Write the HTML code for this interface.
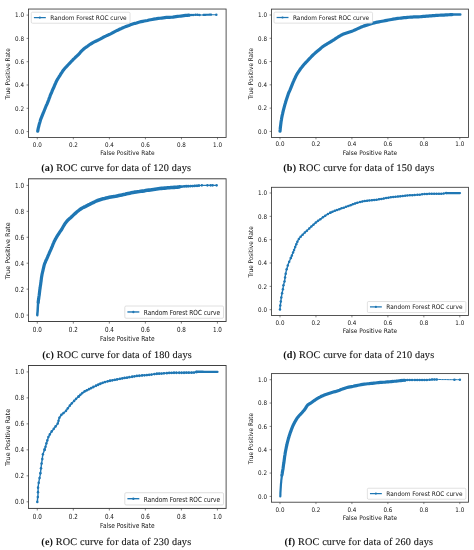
<!DOCTYPE html>
<html lang="en"><head><meta charset="utf-8"><title>Random Forest ROC curves</title>
<style>html,body{margin:0;padding:0;background:#fff}body{width:474px;height:550px;overflow:hidden}</style>
</head><body>
<svg width="474" height="550" viewBox="0 0 474 550" style="display:block">
<g font-family="'DejaVu Sans','Liberation Sans',sans-serif" font-size="6.3" fill="#111" text-rendering="geometricPrecision">
<g id="plot-a" transform="translate(28.29 9.27) scale(1.0006 0.9981)">
<g fill="none" stroke="#1f77b4" stroke-linecap="round" stroke-linejoin="round"><polyline points="9.4,122.2 9.7,120.6 10.0,119.0 10.4,117.5 10.8,115.9 11.2,114.4 11.7,112.8 12.1,111.3 12.6,109.8 13.2,108.3 13.8,106.8 14.4,105.3 15.0,103.9 15.6,102.4 16.2,100.9 16.8,99.4 17.4,97.9 18.0,96.4 18.7,95.0 19.3,93.5 19.9,92.0 20.5,90.5 21.0,89.0 21.6,87.5 22.1,86.0 22.7,84.6 23.4,83.1 24.0,81.6 24.6,80.1 25.3,78.7 25.9,77.2 26.5,75.7 27.2,74.3 27.8,72.8 28.5,71.4 29.3,70.0 30.2,68.6 31.0,67.3 31.9,65.9 32.7,64.5 33.6,63.2 34.4,61.8 35.4,60.5 36.4,59.3 37.5,58.1 38.6,57.0 39.7,55.8 40.8,54.6 41.9,53.5 43.0,52.3 44.1,51.2 45.2,50.0 46.4,48.9 47.5,47.8 48.7,46.7 49.9,45.6 51.0,44.5 52.0,43.2 53.1,42.0 54.2,40.9 55.4,39.8 56.6,38.8 57.9,37.9 59.2,37.0 60.5,36.0 61.8,35.1 63.2,34.3 64.6,33.5 66.0,32.7 67.4,32.0 68.9,31.3 70.3,30.6 71.7,29.9 73.1,29.1 74.5,28.3 75.9,27.6 77.4,26.9 78.8,26.2 80.3,25.6 81.8,24.9 83.2,24.2 84.6,23.4 86.0,22.6 87.4,21.9 88.8,21.2 90.3,20.5 91.7,19.8 93.2,19.2 94.6,18.5 96.1,17.9 97.6,17.3 99.1,16.7 100.6,16.2 102.1,15.6 103.6,15.1 105.1,14.6 106.7,14.1 108.2,13.7 109.7,13.2 111.3,12.8 112.8,12.4 114.4,12.1 116.0,11.8 117.5,11.5 119.1,11.2 120.7,10.8 122.2,10.5 123.8,10.2 125.4,9.9 127.0,9.7 128.5,9.4 130.1,9.2 131.7,9.0 133.3,8.8 134.9,8.6 136.5,8.4 138.1,8.2 139.7,8.1 141.3,8.1 142.9,8.0 144.5,7.9 146.0,7.6 147.6,7.4 149.2,7.2 150.8,7.0 152.4,6.8 154.0,6.6 155.6,6.4 157.2,6.2 158.8,6.1 160.3,5.9 160.7,5.9" stroke-width="3.2"/><polyline points="160.7,5.9 162.3,5.8 163.9,5.7 165.5,5.7 167.1,5.6 168.7,5.6 170.3,5.7 171.1,5.7" stroke-width="1.4"/><polyline points="171.1,5.7 172.7,5.7 174.3,5.7 175.1,5.7" stroke-width="1.0"/><polyline points="175.1,5.7 176.7,5.7 178.3,5.5 179.9,5.5 181.5,5.4 182.7,5.4" stroke-width="2.2"/><polyline points="182.7,5.4 184.3,5.4 185.9,5.4 187.5,5.4 187.9,5.4" stroke-width="1.0"/></g>
<g fill="#1f77b4"><circle cx="160.7" cy="5.9" r="1.25"/><circle cx="162.7" cy="5.8" r="1.25"/><circle cx="164.7" cy="5.7" r="1.25"/><circle cx="167.1" cy="5.6" r="1.25"/><circle cx="169.1" cy="5.6" r="1.25"/><circle cx="171.1" cy="5.7" r="1.25"/><circle cx="187.9" cy="5.4" r="1.25"/></g>
<rect x="0.21" y="-0.23" width="197.48" height="128.65" fill="none" stroke="#383838" stroke-width="0.85"/>
<path d="M9.00 128.43v1.9M0.21 122.56h-1.9M45.02 128.43v1.9M0.21 99.22h-1.9M81.04 128.43v1.9M0.21 75.87h-1.9M117.06 128.43v1.9M0.21 52.53h-1.9M153.08 128.43v1.9M0.21 29.18h-1.9M189.10 128.43v1.9M0.21 5.84h-1.9" stroke="#383838" stroke-width="0.6" fill="none"/>
<text x="9.00" y="137.70" text-anchor="middle" textLength="8.9" lengthAdjust="spacingAndGlyphs">0.0</text>
<text x="-4.29" y="124.86" text-anchor="end" textLength="8.9" lengthAdjust="spacingAndGlyphs">0.0</text>
<text x="45.02" y="137.70" text-anchor="middle" textLength="8.9" lengthAdjust="spacingAndGlyphs">0.2</text>
<text x="-4.29" y="101.52" text-anchor="end" textLength="8.9" lengthAdjust="spacingAndGlyphs">0.2</text>
<text x="81.04" y="137.70" text-anchor="middle" textLength="8.9" lengthAdjust="spacingAndGlyphs">0.4</text>
<text x="-4.29" y="78.17" text-anchor="end" textLength="8.9" lengthAdjust="spacingAndGlyphs">0.4</text>
<text x="117.06" y="137.70" text-anchor="middle" textLength="8.9" lengthAdjust="spacingAndGlyphs">0.6</text>
<text x="-4.29" y="54.83" text-anchor="end" textLength="8.9" lengthAdjust="spacingAndGlyphs">0.6</text>
<text x="153.08" y="137.70" text-anchor="middle" textLength="8.9" lengthAdjust="spacingAndGlyphs">0.8</text>
<text x="-4.29" y="31.48" text-anchor="end" textLength="8.9" lengthAdjust="spacingAndGlyphs">0.8</text>
<text x="189.10" y="137.70" text-anchor="middle" textLength="8.9" lengthAdjust="spacingAndGlyphs">1.0</text>
<text x="-4.29" y="8.14" text-anchor="end" textLength="8.9" lengthAdjust="spacingAndGlyphs">1.0</text>
<text x="99.05" y="145.90" text-anchor="middle" textLength="54.5" lengthAdjust="spacingAndGlyphs">False Positive Rate</text>
<text transform="translate(-18.0 64.70) rotate(-90)" text-anchor="middle" textLength="51.4" lengthAdjust="spacingAndGlyphs">True Positive Rate</text>
<rect x="3.00" y="3.00" width="98.7" height="11.0" rx="1.2" fill="#fff" fill-opacity="0.8" stroke="#cccccc" stroke-width="0.6"/>
<path d="M5.60 8.35h11.9" stroke="#1f77b4" stroke-width="1.25"/><circle cx="11.55" cy="8.35" r="1.1" fill="#1f77b4"/>
<text x="22.00" y="10.90" textLength="76.3" lengthAdjust="spacingAndGlyphs">Random Forest ROC curve</text>
</g>
<g id="plot-b" transform="translate(271.01 9.18) scale(0.9984 0.9972)">
<g fill="none" stroke="#1f77b4" stroke-linecap="round" stroke-linejoin="round"><polyline points="9.0,122.4 9.2,120.8 9.3,119.2 9.5,117.6 9.7,116.0 9.9,114.4 10.1,112.8 10.4,111.2 10.6,109.7 10.9,108.1 11.2,106.5 11.6,105.0 11.9,103.4 12.3,101.8 12.7,100.3 13.1,98.7 13.5,97.2 13.9,95.7 14.4,94.1 14.8,92.6 15.3,91.1 15.8,89.5 16.3,88.0 16.8,86.5 17.3,85.0 17.9,83.5 18.6,82.0 19.2,80.6 19.8,79.1 20.4,77.6 21.0,76.1 21.6,74.6 22.2,73.2 22.9,71.7 23.5,70.2 24.2,68.8 24.9,67.3 25.6,65.9 26.4,64.5 27.3,63.2 28.2,61.8 29.1,60.5 30.0,59.2 31.0,58.0 32.0,56.7 33.0,55.5 34.1,54.3 35.2,53.1 36.3,52.0 37.4,50.8 38.5,49.6 39.6,48.5 40.7,47.3 41.8,46.2 43.0,45.1 44.2,44.0 45.4,43.0 46.6,42.0 47.9,40.9 49.1,39.9 50.3,38.8 51.5,37.8 52.8,36.9 54.1,36.0 55.5,35.2 56.9,34.4 58.3,33.5 59.6,32.7 61.0,31.9 62.4,31.0 63.7,30.2 65.0,29.3 66.4,28.4 67.7,27.6 69.1,26.8 70.5,25.9 71.9,25.2 73.4,24.6 74.9,24.1 76.4,23.6 77.9,23.1 79.5,22.6 81.0,22.1 82.5,21.5 83.9,20.9 85.4,20.2 86.9,19.5 88.3,18.9 89.8,18.2 91.2,17.6 92.7,17.0 94.3,16.5 95.8,16.0 97.3,15.5 98.8,15.1 100.4,14.6 101.9,14.1 103.4,13.7 105.0,13.3 106.6,13.0 108.1,12.7 109.7,12.4 111.3,12.1 112.8,11.8 114.4,11.5 116.0,11.2 117.6,10.9 119.1,10.6 120.7,10.3 122.3,10.0 123.9,9.8 125.4,9.5 127.0,9.3 128.6,9.1 130.2,8.9 131.8,8.7 133.4,8.5 135.0,8.4 136.6,8.2 138.2,8.1 139.8,8.0 141.4,7.9 143.0,7.8 144.6,7.8 146.2,7.8 147.7,7.7 149.3,7.6 150.9,7.4 152.5,7.3 154.1,7.2 155.7,7.0 157.3,6.9 158.9,6.8 160.5,6.7 162.1,6.5 163.7,6.4 165.3,6.3 166.9,6.2 168.5,6.1 170.1,6.0 171.7,6.0 173.3,5.9 174.9,5.8 176.5,5.7 178.1,5.6 179.7,5.5 181.3,5.4" stroke-width="3.2"/><polyline points="181.3,5.4 182.9,5.4 184.5,5.3 186.1,5.3 187.7,5.4 189.3,5.4 189.6,5.4" stroke-width="2.5"/></g>
<rect x="0.49" y="-0.08" width="197.32" height="128.71" fill="none" stroke="#383838" stroke-width="0.85"/>
<path d="M9.00 128.63v1.9M0.49 122.56h-1.9M45.02 128.63v1.9M0.49 99.22h-1.9M81.04 128.63v1.9M0.49 75.87h-1.9M117.06 128.63v1.9M0.49 52.53h-1.9M153.08 128.63v1.9M0.49 29.18h-1.9M189.10 128.63v1.9M0.49 5.84h-1.9" stroke="#383838" stroke-width="0.6" fill="none"/>
<text x="9.00" y="137.70" text-anchor="middle" textLength="8.9" lengthAdjust="spacingAndGlyphs">0.0</text>
<text x="-4.01" y="124.86" text-anchor="end" textLength="8.9" lengthAdjust="spacingAndGlyphs">0.0</text>
<text x="45.02" y="137.70" text-anchor="middle" textLength="8.9" lengthAdjust="spacingAndGlyphs">0.2</text>
<text x="-4.01" y="101.52" text-anchor="end" textLength="8.9" lengthAdjust="spacingAndGlyphs">0.2</text>
<text x="81.04" y="137.70" text-anchor="middle" textLength="8.9" lengthAdjust="spacingAndGlyphs">0.4</text>
<text x="-4.01" y="78.17" text-anchor="end" textLength="8.9" lengthAdjust="spacingAndGlyphs">0.4</text>
<text x="117.06" y="137.70" text-anchor="middle" textLength="8.9" lengthAdjust="spacingAndGlyphs">0.6</text>
<text x="-4.01" y="54.83" text-anchor="end" textLength="8.9" lengthAdjust="spacingAndGlyphs">0.6</text>
<text x="153.08" y="137.70" text-anchor="middle" textLength="8.9" lengthAdjust="spacingAndGlyphs">0.8</text>
<text x="-4.01" y="31.48" text-anchor="end" textLength="8.9" lengthAdjust="spacingAndGlyphs">0.8</text>
<text x="189.10" y="137.70" text-anchor="middle" textLength="8.9" lengthAdjust="spacingAndGlyphs">1.0</text>
<text x="-4.01" y="8.14" text-anchor="end" textLength="8.9" lengthAdjust="spacingAndGlyphs">1.0</text>
<text x="99.05" y="145.90" text-anchor="middle" textLength="54.5" lengthAdjust="spacingAndGlyphs">False Positive Rate</text>
<text transform="translate(-18.0 64.70) rotate(-90)" text-anchor="middle" textLength="51.4" lengthAdjust="spacingAndGlyphs">True Positive Rate</text>
<rect x="3.00" y="3.00" width="98.7" height="11.0" rx="1.2" fill="#fff" fill-opacity="0.8" stroke="#cccccc" stroke-width="0.6"/>
<path d="M5.60 8.35h11.9" stroke="#1f77b4" stroke-width="1.25"/><circle cx="11.55" cy="8.35" r="1.1" fill="#1f77b4"/>
<text x="22.00" y="10.90" textLength="76.3" lengthAdjust="spacingAndGlyphs">Random Forest ROC curve</text>
</g>
<g id="plot-c" transform="translate(28.29 178.91) scale(1.0001 1.1111)">
<g fill="none" stroke="#1f77b4" stroke-linecap="round" stroke-linejoin="round"><polyline points="9.0,122.6 9.1,121.0 9.3,119.4 9.4,117.8 9.5,116.2 9.6,114.6 9.7,113.0 9.9,111.4 9.9,111.0" stroke-width="2.5"/><polyline points="9.9,111.0 10.1,109.4 10.4,107.8 10.6,106.3 10.9,104.7 11.1,103.1 11.3,101.5 11.5,99.9 11.8,98.3 12.0,96.8 12.3,95.2 12.5,93.6 12.8,92.0 13.0,90.4 13.2,88.8 13.5,87.3 13.8,85.7 14.2,84.1 14.6,82.6 15.0,81.0 15.4,79.5 15.8,78.0 16.3,76.4 17.0,75.0 17.6,73.5 18.4,72.1 19.1,70.7 19.8,69.2 20.5,67.8 21.2,66.3 21.9,64.9 22.6,63.5 23.3,62.0 24.0,60.6 24.6,59.1 25.3,57.7 26.0,56.2 26.8,54.8 27.6,53.5 28.5,52.1 29.4,50.8 30.3,49.5 31.2,48.2 32.2,46.9 33.2,45.7 34.1,44.3 34.9,43.0 35.8,41.6 36.7,40.3 37.7,39.1 38.8,37.9 39.9,36.8 41.2,35.8 42.5,34.8 43.7,33.8 44.9,32.7 46.1,31.7 47.4,30.7 48.6,29.7 49.9,28.8 51.2,27.8 52.6,27.0 54.0,26.2 55.4,25.5 56.9,24.9 58.3,24.2 59.8,23.5 61.3,22.9 62.7,22.2 64.2,21.6 65.7,21.0 67.1,20.3 68.6,19.7 70.1,19.2 71.7,18.7 73.2,18.3 74.8,17.9 76.3,17.6 77.9,17.2 79.4,16.9 81.0,16.6 82.6,16.3 84.2,16.0 85.8,15.8 87.3,15.6 88.9,15.3 90.5,15.0 92.1,14.7 93.6,14.4 95.2,14.1 96.8,13.8 98.3,13.4 99.9,13.1 101.5,12.8 103.0,12.5 104.6,12.2 106.2,11.9 107.8,11.7 109.4,11.5 111.0,11.4 112.5,11.2 114.1,11.0 115.7,10.8 117.3,10.5 118.9,10.3 120.5,10.1 122.0,9.9 123.6,9.7 125.2,9.5 126.8,9.3 128.4,9.1 130.0,8.9 131.6,8.7 133.2,8.5 134.8,8.4 136.4,8.3 137.9,8.2 139.5,8.0 141.1,7.9 142.7,7.8 144.3,7.7 145.9,7.6 147.5,7.5 149.1,7.4 150.7,7.2 151.5,7.1" stroke-width="3.2"/><polyline points="151.5,7.1 153.1,7.0 154.7,6.8 156.3,6.7 157.9,6.6 159.5,6.6 161.1,6.5 162.7,6.4 164.3,6.4 165.9,6.3 167.5,6.2 169.1,6.1 170.7,6.0" stroke-width="1.8"/><polyline points="170.7,6.0 172.3,5.9 173.9,5.8 175.5,5.8 177.1,5.8 178.7,5.8 180.3,5.8 181.9,5.8 183.5,5.8 185.1,5.8 186.7,5.8 188.3,5.8 188.3,5.8" stroke-width="1.0"/></g>
<g fill="#1f77b4"><circle cx="151.5" cy="7.1" r="1.25"/><circle cx="153.5" cy="6.9" r="1.25"/><circle cx="155.9" cy="6.7" r="1.25"/><circle cx="157.9" cy="6.6" r="1.25"/><circle cx="159.9" cy="6.5" r="1.25"/><circle cx="162.3" cy="6.4" r="1.25"/><circle cx="164.3" cy="6.4" r="1.25"/><circle cx="166.3" cy="6.3" r="1.25"/><circle cx="168.7" cy="6.2" r="1.25"/><circle cx="170.7" cy="6.0" r="1.25"/><circle cx="173.5" cy="5.8" r="1.25"/><circle cx="179.1" cy="5.8" r="1.25"/><circle cx="182.3" cy="5.8" r="1.25"/><circle cx="184.3" cy="5.8" r="1.25"/><circle cx="188.3" cy="5.8" r="1.25"/></g>
<rect x="0.20" y="-0.10" width="197.59" height="128.43" fill="none" stroke="#383838" stroke-width="0.85"/>
<path d="M9.00 128.32v1.9M0.20 122.56h-1.9M45.02 128.32v1.9M0.20 99.22h-1.9M81.04 128.32v1.9M0.20 75.87h-1.9M117.06 128.32v1.9M0.20 52.53h-1.9M153.08 128.32v1.9M0.20 29.18h-1.9M189.10 128.32v1.9M0.20 5.84h-1.9" stroke="#383838" stroke-width="0.6" fill="none"/>
<text x="9.00" y="137.70" text-anchor="middle" textLength="8.9" lengthAdjust="spacingAndGlyphs">0.0</text>
<text x="-4.30" y="124.86" text-anchor="end" textLength="8.9" lengthAdjust="spacingAndGlyphs">0.0</text>
<text x="45.02" y="137.70" text-anchor="middle" textLength="8.9" lengthAdjust="spacingAndGlyphs">0.2</text>
<text x="-4.30" y="101.52" text-anchor="end" textLength="8.9" lengthAdjust="spacingAndGlyphs">0.2</text>
<text x="81.04" y="137.70" text-anchor="middle" textLength="8.9" lengthAdjust="spacingAndGlyphs">0.4</text>
<text x="-4.30" y="78.17" text-anchor="end" textLength="8.9" lengthAdjust="spacingAndGlyphs">0.4</text>
<text x="117.06" y="137.70" text-anchor="middle" textLength="8.9" lengthAdjust="spacingAndGlyphs">0.6</text>
<text x="-4.30" y="54.83" text-anchor="end" textLength="8.9" lengthAdjust="spacingAndGlyphs">0.6</text>
<text x="153.08" y="137.70" text-anchor="middle" textLength="8.9" lengthAdjust="spacingAndGlyphs">0.8</text>
<text x="-4.30" y="31.48" text-anchor="end" textLength="8.9" lengthAdjust="spacingAndGlyphs">0.8</text>
<text x="189.10" y="137.70" text-anchor="middle" textLength="8.9" lengthAdjust="spacingAndGlyphs">1.0</text>
<text x="-4.30" y="8.14" text-anchor="end" textLength="8.9" lengthAdjust="spacingAndGlyphs">1.0</text>
<text x="99.05" y="145.90" text-anchor="middle" textLength="54.5" lengthAdjust="spacingAndGlyphs">False Positive Rate</text>
<text transform="translate(-18.0 64.70) rotate(-90)" text-anchor="middle" textLength="51.4" lengthAdjust="spacingAndGlyphs">True Positive Rate</text>
<rect x="96.50" y="114.40" width="98.7" height="11.0" rx="1.2" fill="#fff" fill-opacity="0.8" stroke="#cccccc" stroke-width="0.6"/>
<path d="M99.10 119.75h11.9" stroke="#1f77b4" stroke-width="1.25"/><circle cx="105.05" cy="119.75" r="1.1" fill="#1f77b4"/>
<text x="115.50" y="122.30" textLength="76.3" lengthAdjust="spacingAndGlyphs">Random Forest ROC curve</text>
</g>
<g id="plot-d" transform="translate(271.01 187.16) scale(0.9984 0.9998)">
<g fill="none" stroke="#1f77b4" stroke-linecap="round" stroke-linejoin="round"><polyline points="9.0,122.4 9.1,120.8 9.2,119.2 9.4,117.6 9.6,116.0 9.8,114.4 10.0,112.8 10.2,111.2 10.5,109.7 10.7,108.1 11.0,106.5 11.3,104.9 11.6,103.4 11.9,101.8 12.2,100.2 12.4,98.6 12.7,97.1 13.2,95.5 13.6,94.0 13.8,92.4 14.0,90.8 14.2,89.2 14.5,87.6 14.8,86.1 15.1,84.5 15.5,82.9 16.0,81.4 16.4,79.9 16.8,78.3 17.3,76.8 17.8,75.3 18.5,73.9 19.2,72.4 19.9,70.9" stroke-width="1.4"/><polyline points="19.9,70.9 20.5,69.5 21.1,68.0 21.6,66.5 22.2,65.0 22.8,63.5 23.4,62.0 24.0,60.5 24.5,59.0 25.2,57.6 25.8,56.1 26.4,54.6 27.1,53.1 27.9,51.8 28.9,50.5 30.0,49.3 31.1,48.2 32.2,47.0 33.4,45.9 34.5,44.8 35.7,43.7 36.9,42.6 38.0,41.5 39.2,40.4 40.4,39.4 41.6,38.3 42.8,37.2 44.0,36.2 45.2,35.2 46.5,34.2 47.8,33.2 49.1,32.3 50.3,31.3 51.6,30.4 52.9,29.5 54.3,28.6 55.6,27.7 57.0,26.9 58.4,26.1 59.4,25.5" stroke-width="1.4"/><polyline points="59.4,25.5 60.9,24.9 62.4,24.3 63.9,23.7 65.4,23.1 66.9,22.6 68.4,22.0 69.9,21.5 71.4,21.0 72.9,20.5 74.4,20.0 75.9,19.4 77.4,18.9 78.9,18.3 80.4,17.8 81.9,17.2 83.4,16.6 84.9,16.1 86.5,15.6 88.0,15.2 89.6,14.8 91.1,14.4 92.7,14.1 94.3,13.8 95.8,13.6 97.4,13.4 99.0,13.2 100.6,13.1 102.2,12.9 103.8,12.8 105.4,12.6 107.0,12.4 108.6,12.1 110.1,11.9 111.7,11.6 113.3,11.3 114.9,11.0 116.4,10.7 118.0,10.4 119.6,10.2 121.2,10.0 122.8,9.8 124.4,9.6 126.0,9.5 127.5,9.4 129.1,9.3 130.7,9.1 132.3,8.8 133.9,8.5 135.5,8.3 137.1,8.2 138.7,8.2 140.3,8.1 141.9,8.0 143.5,7.9 145.1,7.8 146.7,7.7 148.2,7.5 149.8,7.4 151.4,7.2 153.0,7.0 154.6,6.8 156.2,6.8 157.8,6.7 159.4,6.6 161.0,6.6 162.6,6.6 164.2,6.6 165.8,6.6 167.4,6.6 169.0,6.6 170.6,6.6 172.2,6.5 173.8,6.2 175.4,5.9" stroke-width="1.4"/><polyline points="175.4,5.9 177.0,5.9 178.5,5.9 180.1,5.9 181.7,5.9 183.3,5.9 184.9,5.9 186.5,5.9 188.2,5.9 189.3,5.9" stroke-width="2.2"/></g>
<g fill="#1f77b4"><circle cx="9.0" cy="122.4" r="1.25"/><circle cx="9.3" cy="118.4" r="1.25"/><circle cx="9.8" cy="114.4" r="1.25"/><circle cx="10.3" cy="110.4" r="1.25"/><circle cx="11.1" cy="106.1" r="1.25"/><circle cx="11.9" cy="102.2" r="1.25"/><circle cx="12.5" cy="98.2" r="1.25"/><circle cx="13.5" cy="94.4" r="1.25"/><circle cx="14.1" cy="90.4" r="1.25"/><circle cx="14.7" cy="86.5" r="1.25"/><circle cx="15.7" cy="82.2" r="1.25"/><circle cx="16.8" cy="78.3" r="1.25"/><circle cx="18.2" cy="74.6" r="1.25"/><circle cx="19.9" cy="70.9" r="1.25"/><circle cx="19.9" cy="70.9" r="1.25"/><circle cx="20.9" cy="68.4" r="1.25"/><circle cx="22.1" cy="65.4" r="1.25"/><circle cx="23.1" cy="62.8" r="1.25"/><circle cx="24.2" cy="59.8" r="1.25"/><circle cx="25.3" cy="57.2" r="1.25"/><circle cx="26.4" cy="54.6" r="1.25"/><circle cx="27.9" cy="51.8" r="1.25"/><circle cx="29.7" cy="49.6" r="1.25"/><circle cx="31.7" cy="47.6" r="1.25"/><circle cx="33.9" cy="45.4" r="1.25"/><circle cx="36.0" cy="43.5" r="1.25"/><circle cx="38.3" cy="41.3" r="1.25"/><circle cx="40.4" cy="39.4" r="1.25"/><circle cx="42.5" cy="37.5" r="1.25"/><circle cx="44.9" cy="35.4" r="1.25"/><circle cx="47.1" cy="33.7" r="1.25"/><circle cx="49.4" cy="32.0" r="1.25"/><circle cx="52.0" cy="30.2" r="1.25"/><circle cx="54.3" cy="28.6" r="1.25"/><circle cx="57.0" cy="26.9" r="1.25"/><circle cx="59.4" cy="25.5" r="1.25"/><circle cx="59.4" cy="25.5" r="1.25"/><circle cx="61.6" cy="24.6" r="1.25"/><circle cx="63.9" cy="23.7" r="1.25"/><circle cx="66.1" cy="22.8" r="1.25"/><circle cx="68.4" cy="22.0" r="1.25"/><circle cx="70.6" cy="21.2" r="1.25"/><circle cx="72.9" cy="20.5" r="1.25"/><circle cx="75.2" cy="19.7" r="1.25"/><circle cx="77.4" cy="18.9" r="1.25"/><circle cx="79.7" cy="18.0" r="1.25"/><circle cx="81.9" cy="17.2" r="1.25"/><circle cx="84.2" cy="16.4" r="1.25"/><circle cx="86.5" cy="15.6" r="1.25"/><circle cx="89.2" cy="14.9" r="1.25"/><circle cx="91.5" cy="14.3" r="1.25"/><circle cx="93.9" cy="13.9" r="1.25"/><circle cx="96.2" cy="13.6" r="1.25"/><circle cx="98.6" cy="13.3" r="1.25"/><circle cx="101.0" cy="13.0" r="1.25"/><circle cx="103.4" cy="12.8" r="1.25"/><circle cx="105.8" cy="12.6" r="1.25"/><circle cx="108.2" cy="12.2" r="1.25"/><circle cx="110.5" cy="11.8" r="1.25"/><circle cx="112.9" cy="11.4" r="1.25"/><circle cx="115.3" cy="10.9" r="1.25"/><circle cx="117.6" cy="10.5" r="1.25"/><circle cx="120.0" cy="10.1" r="1.25"/><circle cx="122.4" cy="9.8" r="1.25"/><circle cx="124.8" cy="9.6" r="1.25"/><circle cx="127.1" cy="9.4" r="1.25"/><circle cx="129.5" cy="9.2" r="1.25"/><circle cx="131.9" cy="8.9" r="1.25"/><circle cx="134.3" cy="8.5" r="1.25"/><circle cx="136.7" cy="8.3" r="1.25"/><circle cx="139.1" cy="8.2" r="1.25"/><circle cx="141.5" cy="8.1" r="1.25"/><circle cx="143.9" cy="7.9" r="1.25"/><circle cx="146.7" cy="7.7" r="1.25"/><circle cx="149.0" cy="7.5" r="1.25"/><circle cx="151.4" cy="7.2" r="1.25"/><circle cx="153.8" cy="6.9" r="1.25"/><circle cx="156.2" cy="6.8" r="1.25"/><circle cx="158.6" cy="6.7" r="1.25"/><circle cx="161.0" cy="6.6" r="1.25"/><circle cx="163.4" cy="6.6" r="1.25"/><circle cx="165.8" cy="6.6" r="1.25"/><circle cx="168.2" cy="6.6" r="1.25"/><circle cx="170.6" cy="6.6" r="1.25"/><circle cx="173.0" cy="6.3" r="1.25"/><circle cx="175.4" cy="5.9" r="1.25"/></g>
<rect x="0.49" y="0.14" width="197.32" height="128.18" fill="none" stroke="#383838" stroke-width="0.85"/>
<path d="M9.00 128.31v1.9M0.49 122.56h-1.9M45.02 128.31v1.9M0.49 99.22h-1.9M81.04 128.31v1.9M0.49 75.87h-1.9M117.06 128.31v1.9M0.49 52.53h-1.9M153.08 128.31v1.9M0.49 29.18h-1.9M189.10 128.31v1.9M0.49 5.84h-1.9" stroke="#383838" stroke-width="0.6" fill="none"/>
<text x="9.00" y="137.70" text-anchor="middle" textLength="8.9" lengthAdjust="spacingAndGlyphs">0.0</text>
<text x="-4.01" y="124.86" text-anchor="end" textLength="8.9" lengthAdjust="spacingAndGlyphs">0.0</text>
<text x="45.02" y="137.70" text-anchor="middle" textLength="8.9" lengthAdjust="spacingAndGlyphs">0.2</text>
<text x="-4.01" y="101.52" text-anchor="end" textLength="8.9" lengthAdjust="spacingAndGlyphs">0.2</text>
<text x="81.04" y="137.70" text-anchor="middle" textLength="8.9" lengthAdjust="spacingAndGlyphs">0.4</text>
<text x="-4.01" y="78.17" text-anchor="end" textLength="8.9" lengthAdjust="spacingAndGlyphs">0.4</text>
<text x="117.06" y="137.70" text-anchor="middle" textLength="8.9" lengthAdjust="spacingAndGlyphs">0.6</text>
<text x="-4.01" y="54.83" text-anchor="end" textLength="8.9" lengthAdjust="spacingAndGlyphs">0.6</text>
<text x="153.08" y="137.70" text-anchor="middle" textLength="8.9" lengthAdjust="spacingAndGlyphs">0.8</text>
<text x="-4.01" y="31.48" text-anchor="end" textLength="8.9" lengthAdjust="spacingAndGlyphs">0.8</text>
<text x="189.10" y="137.70" text-anchor="middle" textLength="8.9" lengthAdjust="spacingAndGlyphs">1.0</text>
<text x="-4.01" y="8.14" text-anchor="end" textLength="8.9" lengthAdjust="spacingAndGlyphs">1.0</text>
<text x="99.05" y="145.90" text-anchor="middle" textLength="54.5" lengthAdjust="spacingAndGlyphs">False Positive Rate</text>
<text transform="translate(-18.0 64.70) rotate(-90)" text-anchor="middle" textLength="51.4" lengthAdjust="spacingAndGlyphs">True Positive Rate</text>
<rect x="96.50" y="114.40" width="98.7" height="11.0" rx="1.2" fill="#fff" fill-opacity="0.8" stroke="#cccccc" stroke-width="0.6"/>
<path d="M99.10 119.75h11.9" stroke="#1f77b4" stroke-width="1.25"/><circle cx="105.05" cy="119.75" r="1.1" fill="#1f77b4"/>
<text x="115.50" y="122.30" textLength="76.3" lengthAdjust="spacingAndGlyphs">Random Forest ROC curve</text>
</g>
<g id="plot-e" transform="translate(28.29 365.40) scale(1.0001 1.1129)">
<g fill="none" stroke="#1f77b4" stroke-linecap="round" stroke-linejoin="round"><polyline points="9.0,122.7 9.2,121.1 9.3,119.5 9.5,117.9 9.7,116.3 9.7,114.7 9.8,113.1 9.8,111.5 9.8,109.9 10.0,108.3 10.2,106.7 10.5,105.1 10.8,103.6 11.1,102.0 11.4,100.4 11.8,98.9 12.1,97.3 12.3,95.7 12.5,94.1 12.7,92.5 12.9,90.9 13.1,89.4 13.3,87.8 13.6,86.2 13.9,84.6 14.1,83.0 14.3,81.4 14.6,79.9 15.2,78.4 15.8,76.9 16.3,75.8" stroke-width="1.4"/><polyline points="16.3,75.8 16.8,74.3 17.3,72.8 17.8,71.2 18.3,69.7 18.8,68.2 19.3,66.7 19.8,65.2 20.5,63.7 21.3,62.4 22.2,61.0 23.2,59.7 24.2,58.5 25.2,57.3 26.3,56.1 27.3,54.8 28.4,53.6 29.4,52.3 30.0,51.0 30.3,49.4 30.8,47.8 31.5,46.4 32.5,45.1 33.6,44.0 34.9,43.0 36.2,42.1 37.5,41.1 38.5,39.9 39.5,38.6 40.5,37.3 41.5,36.2 42.6,35.0 43.8,33.8 44.9,32.7 46.1,31.6 47.2,30.6 48.5,29.5 49.7,28.5 50.3,28.0" stroke-width="1.4"/><polyline points="50.3,28.0 51.5,26.9 52.8,25.9 54.0,24.9 55.3,24.0 56.7,23.2 58.1,22.5 59.6,21.9 61.1,21.2 62.5,20.5 64.0,19.9 65.5,19.3 66.9,18.6 68.4,18.0 69.9,17.4 71.4,16.8 72.9,16.2 74.4,15.7 75.9,15.2 77.4,14.8 79.0,14.4 80.6,14.0 82.1,13.7 83.7,13.5 85.3,13.2 86.9,13.0 88.4,12.7 90.0,12.4 91.6,12.1 93.2,11.8 94.7,11.6 96.3,11.3 97.9,11.1 99.5,10.9 101.1,10.6 102.7,10.4 104.2,10.1 105.8,9.9 107.4,9.7 109.0,9.5 110.6,9.3 112.2,9.2 113.8,9.0 115.4,8.9 117.0,8.8 118.6,8.7 120.2,8.5 121.7,8.4 123.3,8.2 124.9,8.0 126.5,7.7 128.1,7.6 129.7,7.4 131.3,7.4 132.9,7.3 134.5,7.2 136.1,7.1 137.7,7.0 139.3,6.9 140.9,6.8 142.5,6.7 144.1,6.7 145.7,6.6 147.3,6.6 148.9,6.6 150.5,6.6 152.1,6.6 153.7,6.6 155.3,6.6 156.9,6.5 158.5,6.5 160.1,6.5 161.7,6.5 163.3,6.5 164.9,6.4 166.5,6.3 168.0,5.9" stroke-width="1.4"/><polyline points="168.0,5.9 169.6,5.7 171.2,5.7 172.8,5.7 174.3,5.7 175.9,5.8 177.5,5.8 179.1,5.8 180.7,5.8 182.3,5.8 183.9,5.8 185.6,5.8 187.2,5.8 188.8,5.8 189.2,5.8" stroke-width="2.2"/></g>
<g fill="#1f77b4"><circle cx="9.0" cy="122.7" r="1.25"/><circle cx="9.5" cy="118.3" r="1.25"/><circle cx="9.7" cy="113.9" r="1.25"/><circle cx="9.8" cy="109.9" r="1.25"/><circle cx="10.4" cy="105.5" r="1.25"/><circle cx="11.3" cy="101.2" r="1.25"/><circle cx="12.1" cy="96.9" r="1.25"/><circle cx="12.7" cy="92.5" r="1.25"/><circle cx="13.3" cy="88.2" r="1.25"/><circle cx="14.0" cy="84.2" r="1.25"/><circle cx="14.6" cy="79.9" r="1.25"/><circle cx="16.3" cy="75.8" r="1.25"/><circle cx="16.3" cy="75.8" r="1.25"/><circle cx="17.2" cy="73.2" r="1.25"/><circle cx="18.1" cy="70.1" r="1.25"/><circle cx="19.0" cy="67.4" r="1.25"/><circle cx="20.1" cy="64.4" r="1.25"/><circle cx="21.5" cy="62.0" r="1.25"/><circle cx="23.4" cy="59.4" r="1.25"/><circle cx="25.5" cy="57.0" r="1.25"/><circle cx="27.3" cy="54.8" r="1.25"/><circle cx="29.4" cy="52.3" r="1.25"/><circle cx="30.2" cy="49.8" r="1.25"/><circle cx="31.1" cy="47.1" r="1.25"/><circle cx="33.0" cy="44.5" r="1.25"/><circle cx="35.2" cy="42.8" r="1.25"/><circle cx="37.7" cy="40.8" r="1.25"/><circle cx="39.5" cy="38.6" r="1.25"/><circle cx="41.5" cy="36.2" r="1.25"/><circle cx="43.5" cy="34.1" r="1.25"/><circle cx="45.8" cy="31.9" r="1.25"/><circle cx="47.8" cy="30.0" r="1.25"/><circle cx="50.3" cy="28.0" r="1.25"/><circle cx="50.3" cy="28.0" r="1.25"/><circle cx="52.1" cy="26.4" r="1.25"/><circle cx="54.0" cy="24.9" r="1.25"/><circle cx="56.3" cy="23.4" r="1.25"/><circle cx="58.5" cy="22.4" r="1.25"/><circle cx="60.7" cy="21.4" r="1.25"/><circle cx="62.9" cy="20.4" r="1.25"/><circle cx="65.1" cy="19.4" r="1.25"/><circle cx="67.7" cy="18.3" r="1.25"/><circle cx="69.9" cy="17.4" r="1.25"/><circle cx="72.1" cy="16.5" r="1.25"/><circle cx="74.4" cy="15.7" r="1.25"/><circle cx="76.7" cy="15.0" r="1.25"/><circle cx="79.4" cy="14.3" r="1.25"/><circle cx="81.7" cy="13.8" r="1.25"/><circle cx="84.1" cy="13.4" r="1.25"/><circle cx="86.5" cy="13.0" r="1.25"/><circle cx="88.8" cy="12.6" r="1.25"/><circle cx="91.6" cy="12.1" r="1.25"/><circle cx="94.0" cy="11.7" r="1.25"/><circle cx="96.3" cy="11.3" r="1.25"/><circle cx="98.7" cy="11.0" r="1.25"/><circle cx="101.1" cy="10.6" r="1.25"/><circle cx="103.8" cy="10.2" r="1.25"/><circle cx="106.2" cy="9.8" r="1.25"/><circle cx="108.6" cy="9.5" r="1.25"/><circle cx="111.0" cy="9.3" r="1.25"/><circle cx="113.8" cy="9.0" r="1.25"/><circle cx="116.2" cy="8.9" r="1.25"/><circle cx="118.6" cy="8.7" r="1.25"/><circle cx="120.9" cy="8.5" r="1.25"/><circle cx="123.3" cy="8.2" r="1.25"/><circle cx="126.1" cy="7.8" r="1.25"/><circle cx="128.5" cy="7.5" r="1.25"/><circle cx="130.9" cy="7.4" r="1.25"/><circle cx="133.3" cy="7.3" r="1.25"/><circle cx="135.7" cy="7.1" r="1.25"/><circle cx="138.5" cy="7.0" r="1.25"/><circle cx="140.9" cy="6.8" r="1.25"/><circle cx="143.3" cy="6.7" r="1.25"/><circle cx="145.7" cy="6.6" r="1.25"/><circle cx="148.1" cy="6.6" r="1.25"/><circle cx="150.9" cy="6.6" r="1.25"/><circle cx="153.3" cy="6.6" r="1.25"/><circle cx="155.7" cy="6.6" r="1.25"/><circle cx="158.1" cy="6.5" r="1.25"/><circle cx="160.5" cy="6.5" r="1.25"/><circle cx="163.3" cy="6.5" r="1.25"/><circle cx="165.7" cy="6.4" r="1.25"/><circle cx="168.0" cy="5.9" r="1.25"/></g>
<rect x="0.20" y="0.09" width="197.59" height="128.41" fill="none" stroke="#383838" stroke-width="0.85"/>
<path d="M9.00 128.49v1.9M0.20 122.56h-1.9M45.02 128.49v1.9M0.20 99.22h-1.9M81.04 128.49v1.9M0.20 75.87h-1.9M117.06 128.49v1.9M0.20 52.53h-1.9M153.08 128.49v1.9M0.20 29.18h-1.9M189.10 128.49v1.9M0.20 5.84h-1.9" stroke="#383838" stroke-width="0.6" fill="none"/>
<text x="9.00" y="137.70" text-anchor="middle" textLength="8.9" lengthAdjust="spacingAndGlyphs">0.0</text>
<text x="-4.30" y="124.86" text-anchor="end" textLength="8.9" lengthAdjust="spacingAndGlyphs">0.0</text>
<text x="45.02" y="137.70" text-anchor="middle" textLength="8.9" lengthAdjust="spacingAndGlyphs">0.2</text>
<text x="-4.30" y="101.52" text-anchor="end" textLength="8.9" lengthAdjust="spacingAndGlyphs">0.2</text>
<text x="81.04" y="137.70" text-anchor="middle" textLength="8.9" lengthAdjust="spacingAndGlyphs">0.4</text>
<text x="-4.30" y="78.17" text-anchor="end" textLength="8.9" lengthAdjust="spacingAndGlyphs">0.4</text>
<text x="117.06" y="137.70" text-anchor="middle" textLength="8.9" lengthAdjust="spacingAndGlyphs">0.6</text>
<text x="-4.30" y="54.83" text-anchor="end" textLength="8.9" lengthAdjust="spacingAndGlyphs">0.6</text>
<text x="153.08" y="137.70" text-anchor="middle" textLength="8.9" lengthAdjust="spacingAndGlyphs">0.8</text>
<text x="-4.30" y="31.48" text-anchor="end" textLength="8.9" lengthAdjust="spacingAndGlyphs">0.8</text>
<text x="189.10" y="137.70" text-anchor="middle" textLength="8.9" lengthAdjust="spacingAndGlyphs">1.0</text>
<text x="-4.30" y="8.14" text-anchor="end" textLength="8.9" lengthAdjust="spacingAndGlyphs">1.0</text>
<text x="99.05" y="145.90" text-anchor="middle" textLength="54.5" lengthAdjust="spacingAndGlyphs">False Positive Rate</text>
<text transform="translate(-18.0 64.70) rotate(-90)" text-anchor="middle" textLength="51.4" lengthAdjust="spacingAndGlyphs">True Positive Rate</text>
<rect x="96.50" y="114.40" width="98.7" height="11.0" rx="1.2" fill="#fff" fill-opacity="0.8" stroke="#cccccc" stroke-width="0.6"/>
<path d="M99.10 119.75h11.9" stroke="#1f77b4" stroke-width="1.25"/><circle cx="105.05" cy="119.75" r="1.1" fill="#1f77b4"/>
<text x="115.50" y="122.30" textLength="76.3" lengthAdjust="spacingAndGlyphs">Random Forest ROC curve</text>
</g>
<g id="plot-f" transform="translate(271.01 373.87) scale(0.9984 0.9998)">
<g fill="none" stroke="#1f77b4" stroke-linecap="round" stroke-linejoin="round"><polyline points="9.3,122.6 9.4,121.0 9.4,119.4 9.5,117.8 9.6,116.2 9.7,114.6 9.8,113.0 9.9,111.4 10.0,109.8 10.2,108.2 10.3,106.6 10.5,105.0 10.7,103.4 10.9,101.8 10.9,101.4" stroke-width="2.2"/><polyline points="10.9,101.4 11.2,99.9 11.4,98.3 11.7,96.7 12.0,95.1 12.2,93.5 12.4,92.0 12.6,90.4 12.9,88.8 13.1,87.2 13.3,85.6 13.5,84.0 13.7,82.4 14.0,80.9 14.2,79.3 14.5,77.7 14.8,76.1 15.1,74.6 15.4,73.0 15.8,71.4 16.1,69.9 16.5,68.3 16.9,66.8 17.3,65.2 17.8,63.7 18.2,62.1 18.7,60.6 19.2,59.1 19.8,57.6 20.3,56.1 20.9,54.6 21.5,53.1 22.1,51.6 22.8,50.2 23.5,48.8 24.3,47.4 25.1,46.0 26.0,44.6 26.9,43.3 27.9,42.1 29.0,40.9 30.1,39.8 31.2,38.6 32.2,37.4 33.3,36.2 34.3,34.9 35.1,33.6 35.9,32.1 36.9,31.0 38.2,30.1 39.7,29.3 41.0,28.4 42.3,27.4 43.6,26.5 44.9,25.6 46.2,24.7 47.6,23.9 49.0,23.2 50.5,22.4 51.9,21.8 53.4,21.2 54.9,20.6 56.4,20.1 57.9,19.6 59.5,19.1 61.0,18.6 62.5,18.2 64.1,17.8 65.6,17.3 67.1,16.8 68.6,16.3 70.1,15.7 71.6,15.2 73.2,14.6 74.7,14.1 76.2,13.7 77.8,13.3 79.3,13.0 80.9,12.7 82.5,12.4 84.0,12.0 85.6,11.7 87.2,11.4 88.7,11.1 90.3,10.8 91.9,10.5 93.5,10.3 95.1,10.1 96.7,9.9 98.2,9.8 99.8,9.6 101.4,9.5 103.0,9.3 104.6,9.1 106.2,8.9 107.8,8.7 109.4,8.6 111.0,8.5 112.6,8.4 114.2,8.3 115.8,8.1 117.4,8.0 119.0,7.9 120.5,7.7 122.1,7.6 123.7,7.4 125.3,7.3 126.9,7.1 128.5,6.9 130.1,6.7 131.7,6.6 133.3,6.4 134.1,6.4" stroke-width="3.2"/><polyline points="134.1,6.4 135.7,6.2 137.3,6.2 138.9,6.1 140.5,6.2 142.1,6.2 143.7,6.2 145.3,6.2 146.9,6.2 148.5,6.2 150.1,6.2 151.7,6.2 153.3,6.2 154.9,6.1 156.5,6.1 158.1,6.0 159.7,5.9 161.3,5.7 162.9,5.6 164.5,5.6 166.1,5.6" stroke-width="1.4"/><polyline points="166.1,5.6 167.7,5.6 169.3,5.6 170.9,5.7 172.5,5.7 174.1,5.7 175.7,5.7 177.3,5.8 178.9,5.8 180.5,5.8 182.1,5.8 183.7,5.8 185.3,5.8 186.9,5.8 188.5,5.8 189.2,5.8" stroke-width="1.0"/></g>
<g fill="#1f77b4"><circle cx="134.1" cy="6.4" r="1.25"/><circle cx="136.5" cy="6.2" r="1.25"/><circle cx="138.9" cy="6.1" r="1.25"/><circle cx="141.3" cy="6.2" r="1.25"/><circle cx="144.1" cy="6.2" r="1.25"/><circle cx="146.5" cy="6.2" r="1.25"/><circle cx="148.9" cy="6.2" r="1.25"/><circle cx="151.3" cy="6.2" r="1.25"/><circle cx="153.7" cy="6.2" r="1.25"/><circle cx="156.1" cy="6.1" r="1.25"/><circle cx="158.9" cy="5.9" r="1.25"/><circle cx="161.3" cy="5.7" r="1.25"/><circle cx="163.7" cy="5.6" r="1.25"/><circle cx="166.1" cy="5.6" r="1.25"/><circle cx="183.7" cy="5.8" r="1.25"/><circle cx="189.2" cy="5.8" r="1.25"/></g>
<rect x="0.49" y="-0.27" width="197.32" height="128.63" fill="none" stroke="#383838" stroke-width="0.85"/>
<path d="M9.00 128.36v1.9M0.49 122.56h-1.9M45.02 128.36v1.9M0.49 99.22h-1.9M81.04 128.36v1.9M0.49 75.87h-1.9M117.06 128.36v1.9M0.49 52.53h-1.9M153.08 128.36v1.9M0.49 29.18h-1.9M189.10 128.36v1.9M0.49 5.84h-1.9" stroke="#383838" stroke-width="0.6" fill="none"/>
<text x="9.00" y="137.70" text-anchor="middle" textLength="8.9" lengthAdjust="spacingAndGlyphs">0.0</text>
<text x="-4.01" y="124.86" text-anchor="end" textLength="8.9" lengthAdjust="spacingAndGlyphs">0.0</text>
<text x="45.02" y="137.70" text-anchor="middle" textLength="8.9" lengthAdjust="spacingAndGlyphs">0.2</text>
<text x="-4.01" y="101.52" text-anchor="end" textLength="8.9" lengthAdjust="spacingAndGlyphs">0.2</text>
<text x="81.04" y="137.70" text-anchor="middle" textLength="8.9" lengthAdjust="spacingAndGlyphs">0.4</text>
<text x="-4.01" y="78.17" text-anchor="end" textLength="8.9" lengthAdjust="spacingAndGlyphs">0.4</text>
<text x="117.06" y="137.70" text-anchor="middle" textLength="8.9" lengthAdjust="spacingAndGlyphs">0.6</text>
<text x="-4.01" y="54.83" text-anchor="end" textLength="8.9" lengthAdjust="spacingAndGlyphs">0.6</text>
<text x="153.08" y="137.70" text-anchor="middle" textLength="8.9" lengthAdjust="spacingAndGlyphs">0.8</text>
<text x="-4.01" y="31.48" text-anchor="end" textLength="8.9" lengthAdjust="spacingAndGlyphs">0.8</text>
<text x="189.10" y="137.70" text-anchor="middle" textLength="8.9" lengthAdjust="spacingAndGlyphs">1.0</text>
<text x="-4.01" y="8.14" text-anchor="end" textLength="8.9" lengthAdjust="spacingAndGlyphs">1.0</text>
<text x="99.05" y="145.90" text-anchor="middle" textLength="54.5" lengthAdjust="spacingAndGlyphs">False Positive Rate</text>
<text transform="translate(-18.0 64.70) rotate(-90)" text-anchor="middle" textLength="51.4" lengthAdjust="spacingAndGlyphs">True Positive Rate</text>
<rect x="96.50" y="114.40" width="98.7" height="11.0" rx="1.2" fill="#fff" fill-opacity="0.8" stroke="#cccccc" stroke-width="0.6"/>
<path d="M99.10 119.75h11.9" stroke="#1f77b4" stroke-width="1.25"/><circle cx="105.05" cy="119.75" r="1.1" fill="#1f77b4"/>
<text x="115.50" y="122.30" textLength="76.3" lengthAdjust="spacingAndGlyphs">Random Forest ROC curve</text>
</g>
</g>
<g font-family="'Liberation Serif','DejaVu Serif',serif" font-size="10.2" fill="#111" stroke="#111" stroke-width="0.1" text-rendering="geometricPrecision">
<text x="41.3" y="170.9" textLength="149.6" lengthAdjust="spacing"><tspan font-weight="bold" stroke-width="0">(a)</tspan> ROC curve for data of 120 days</text>
<text x="283.3" y="170.9" textLength="150.8" lengthAdjust="spacing"><tspan font-weight="bold" stroke-width="0">(b)</tspan> ROC curve for data of 150 days</text>
<text x="42.2" y="357.5" textLength="149.5" lengthAdjust="spacing"><tspan font-weight="bold" stroke-width="0">(c)</tspan> ROC curve for data of 180 days</text>
<text x="283.3" y="357.5" textLength="150.8" lengthAdjust="spacing"><tspan font-weight="bold" stroke-width="0">(d)</tspan> ROC curve for data of 210 days</text>
<text x="41.3" y="544.8" textLength="149.8" lengthAdjust="spacing"><tspan font-weight="bold" stroke-width="0">(e)</tspan> ROC curve for data of 230 days</text>
<text x="284.6" y="544.8" textLength="148.4" lengthAdjust="spacing"><tspan font-weight="bold" stroke-width="0">(f)</tspan> ROC curve for data of 260 days</text>
</g>
</svg>
</body></html>
